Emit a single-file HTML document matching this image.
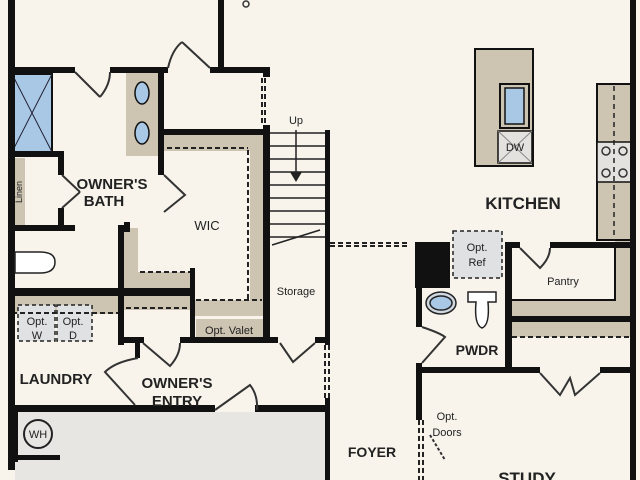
<!DOCTYPE html>
<html><head><meta charset="utf-8"><style>
html,body{margin:0;padding:0;background:#f8f4ec;}
svg{display:block;}
text{font-family:"Liberation Sans",sans-serif;fill:#222;}
.b{font-weight:bold;}
</style></head><body>
<svg width="640" height="480" viewBox="0 0 640 480">
<rect width="640" height="480" fill="#f8f4ec"/>
<rect x="15" y="412" width="312" height="68" fill="#e8e6e3"/>
<g fill="#cdc4b2">
<rect x="126" y="72" width="34" height="84"/>
<rect x="162" y="135" width="103" height="16"/>
<rect x="250" y="135" width="15" height="180"/>
<rect x="124" y="228" width="14" height="62"/>
<rect x="124" y="272" width="68" height="18"/>
<rect x="192" y="300" width="73" height="16"/>
<rect x="10" y="296" width="110" height="18"/>
<rect x="124" y="296" width="68" height="14"/>
<rect x="196" y="319" width="68" height="20"/>
<rect x="12" y="158" width="13" height="68"/>
<rect x="615" y="200" width="16" height="118"/>
<rect x="512" y="300" width="118" height="16"/>
<rect x="512" y="322" width="118" height="15"/>
<rect x="597" y="84" width="35" height="156" stroke="#111" stroke-width="2"/>
<rect x="475" y="49" width="58" height="117" stroke="#111" stroke-width="2"/>
</g>
<rect x="12" y="74" width="40" height="78" fill="#a9c8e6" stroke="#111" stroke-width="2"/>
<path d="M12 74L52 152M52 74L12 152" stroke="#223" stroke-width="1"/>
<ellipse cx="142" cy="93" rx="7" ry="11" fill="#a9c8e6" stroke="#111" stroke-width="1.5"/>
<ellipse cx="142" cy="133" rx="7" ry="11" fill="#a9c8e6" stroke="#111" stroke-width="1.5"/>
<rect x="500" y="84" width="29" height="44" fill="#ccc4b2" stroke="#111" stroke-width="2"/>
<rect x="505" y="88" width="19" height="36" fill="#a9c8e6" stroke="#111" stroke-width="1.5"/>
<rect x="498" y="131" width="34" height="32" fill="#e4e2de" stroke="#111" stroke-width="1.5"/>
<path d="M498 131L532 163M532 131L498 163" stroke="#888" stroke-width="1"/>
<text x="515" y="151" font-size="11" text-anchor="middle" fill="#444">DW</text>
<rect x="597" y="142" width="35" height="40" fill="#e4e2de" stroke="#111" stroke-width="1.5"/>
<g fill="none" stroke="#333" stroke-width="1.5"><circle cx="606" cy="151" r="4"/><circle cx="623" cy="151" r="4"/><circle cx="606" cy="173" r="4"/><circle cx="623" cy="173" r="4"/></g>
<path d="M614 86V240" stroke="#222" stroke-width="1.5" stroke-dasharray="5,4"/>
<g fill="#dfe1e2" stroke="#222" stroke-width="1.5" stroke-dasharray="4,3">
<rect x="18" y="305" width="37" height="36"/>
<rect x="57" y="305" width="35" height="36"/>
<rect x="453" y="231" width="49" height="47"/>
</g>
<g stroke="#222" stroke-width="2" stroke-dasharray="5,3" fill="none">
<path d="M265 78V125M262 78V125"/>
<path d="M167 148H248M248 150V300M140 272H190M196 300H262M12 313H118M126 308H190M198 338H262"/>
<path d="M330 243H410M330 246H410"/>
<path d="M325 345V398M329 345V398"/>
<path d="M419 420V480M423 420V480"/>
<path d="M512 337H630"/>
</g>
<g fill="#111">
<rect x="8" y="0" width="7" height="470"/>
<rect x="218" y="0" width="6" height="73"/>
<rect x="8" y="67" width="67" height="6"/>
<rect x="110" y="67" width="58" height="6"/>
<rect x="210" y="67" width="60" height="6"/>
<rect x="158" y="67" width="6" height="108"/>
<rect x="263" y="67" width="7" height="10"/>
<rect x="158" y="129" width="112" height="6"/>
<rect x="263" y="125" width="7" height="215"/>
<rect x="10" y="151" width="52" height="6"/>
<rect x="58" y="151" width="6" height="24"/>
<rect x="58" y="208" width="6" height="20"/>
<rect x="10" y="225" width="65" height="6"/>
<rect x="118" y="225" width="6" height="120"/>
<rect x="124" y="222" width="6" height="10"/>
<rect x="10" y="288" width="182" height="8"/>
<rect x="190" y="268" width="5" height="72"/>
<rect x="118" y="337" width="26" height="6"/>
<rect x="180" y="337" width="90" height="6"/>
<rect x="135" y="340" width="5" height="18"/>
<rect x="270" y="337" width="8" height="6"/>
<rect x="315" y="337" width="12" height="6"/>
<rect x="10" y="405" width="205" height="7"/>
<rect x="255" y="405" width="72" height="7"/>
<rect x="10" y="412" width="8" height="50"/>
<rect x="10" y="455" width="50" height="5"/>
<rect x="325" y="130" width="5" height="215"/>
<rect x="325" y="398" width="5" height="82"/>
<rect x="415" y="242" width="35" height="46"/>
<rect x="416" y="285" width="6" height="42"/>
<rect x="416" y="363" width="6" height="57"/>
<rect x="505" y="242" width="7" height="128"/>
<rect x="505" y="242" width="15" height="6"/>
<rect x="550" y="242" width="82" height="6"/>
<rect x="512" y="316" width="120" height="6"/>
<rect x="420" y="367" width="120" height="6"/>
<rect x="600" y="367" width="32" height="6"/>
<rect x="630" y="0" width="6" height="480"/>
</g>
<path d="M615 248V300H512" stroke="#111" stroke-width="2" fill="none"/>
<g stroke="#222" stroke-width="1.5">
<path d="M270 133H325M270 146H325M270 159H325M270 172H325M270 185H325M270 198H325M270 211H325M270 224H325M270 237H325"/>
<path d="M296 130V175"/>
</g>
<path d="M290 172L302 172L296 182Z" fill="#222"/>
<path d="M272 245L320 230" stroke="#222" stroke-width="1.5"/>
<g stroke="#333" stroke-width="2" fill="none">
<path d="M75 72L100 97M100 97Q110 85 110 72"/>
<path d="M168 68Q172 50 182 42M182 42L210 68"/>
<path d="M62 175L80 192M62 208L80 192"/>
<path d="M164 175L185 195L164 212"/>
<path d="M143 343L170 366Q180 355 180 343"/>
<path d="M138 358Q115 362 105 372L135 405"/>
<path d="M215 410L250 385Q258 395 257 410"/>
<path d="M280 343L293 362L315 343"/>
<path d="M520 248L540 268Q550 258 550 248"/>
<path d="M422 327Q440 333 445 337L422 363"/>
<path d="M540 373L560 395L570 378L575 395L600 373"/>
<path d="M430 435L445 460" stroke-dasharray="3,2"/>
</g>
<g fill="#fff" stroke="#222" stroke-width="1.5">
<path d="M15 252H40Q55 252 55 262Q55 273 40 273H15Z"/>
<ellipse cx="441" cy="303" rx="15" ry="11" fill="#cfd8e0"/>
<ellipse cx="441" cy="303" rx="11" ry="7" fill="#a9c8e6"/>
<path d="M468 292H496V302H488Q490 325 482 328Q474 325 476 302H468Z"/>
</g>
<circle cx="38" cy="434" r="14" fill="none" stroke="#222" stroke-width="2"/>
<text x="38" y="438" font-size="11" text-anchor="middle">WH</text>
<g font-size="15">
<text x="112" y="189" text-anchor="middle" class="b">OWNER'S</text>
<text x="104" y="206" text-anchor="middle" class="b">BATH</text>
<text x="523" y="209" text-anchor="middle" font-size="17" class="b">KITCHEN</text>
<text x="56" y="384" text-anchor="middle" class="b">LAUNDRY</text>
<text x="177" y="388" text-anchor="middle" class="b">OWNER'S</text>
<text x="177" y="406" text-anchor="middle" class="b">ENTRY</text>
<text x="372" y="457" text-anchor="middle" class="b" font-size="14">FOYER</text>
<text x="477" y="355" text-anchor="middle" class="b" font-size="14">PWDR</text>
<text x="527" y="484" text-anchor="middle" font-size="17" class="b">STUDY</text>
</g>
<text x="207" y="230" font-size="13" text-anchor="middle">WIC</text>
<text x="296" y="124" font-size="11" text-anchor="middle">Up</text>
<text x="296" y="295" font-size="11" text-anchor="middle">Storage</text>
<text x="229" y="334" font-size="11" text-anchor="middle" fill="#444">Opt. Valet</text>
<text x="563" y="285" font-size="11" text-anchor="middle">Pantry</text>
<text x="37" y="325" font-size="11" text-anchor="middle" fill="#444">Opt.</text>
<text x="37" y="339" font-size="11" text-anchor="middle" fill="#444">W</text>
<text x="73" y="325" font-size="11" text-anchor="middle" fill="#444">Opt.</text>
<text x="73" y="339" font-size="11" text-anchor="middle" fill="#444">D</text>
<text x="477" y="251" font-size="11" text-anchor="middle" fill="#444">Opt.</text>
<text x="477" y="266" font-size="11" text-anchor="middle" fill="#444">Ref</text>
<text x="447" y="420" font-size="11" text-anchor="middle">Opt.</text>
<text x="447" y="436" font-size="11" text-anchor="middle">Doors</text>
<text transform="translate(22,192) rotate(-90)" font-size="9" text-anchor="middle" fill="#444">Linen</text>
<circle cx="246" cy="4" r="3" fill="none" stroke="#333" stroke-width="1.5"/>
</svg>
</body></html>
